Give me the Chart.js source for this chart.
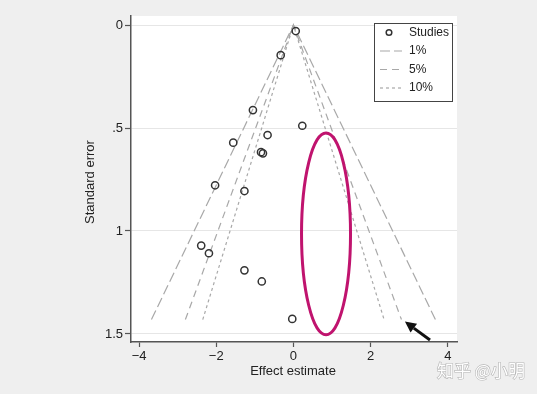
<!DOCTYPE html>
<html><head><meta charset="utf-8">
<script src="https://cdn.jsdelivr.net/npm/chart.js@4"></script>
<style>html,body{margin:0;padding:0;background:#efefef;}#wrap{width:537px;height:394px;position:relative;}</style>
</head><body><div id="wrap"><canvas id="c" width="537" height="394"></canvas></div>
<script>
// Study data: effect estimate vs standard error
const studyEffect = [0.06, -0.33, -1.05, 0.23, -0.67, -1.56, -0.84, -0.79, -2.03, -1.27, -2.39, -2.19, -1.27, -0.82, -0.03];
const studySE     = [0.029, 0.146, 0.413, 0.489, 0.534, 0.571, 0.617, 0.623, 0.778, 0.806, 1.071, 1.108, 1.191, 1.245, 1.427];
// Contour lines: left end, apex, right end (effect), SE values
const contourSE = [1.43, 0, 1.43];
const contour1  = [-3.68, 0, 3.68];
const contour5  = [-2.80, 0, 2.80];
const contour10 = [-2.35, 0, 2.35];
const xTicks = [-4, -2, 0, 2, 4];
const yTicks = [0, 0.5, 1, 1.5];
const yTickLabels = ["0", ".5", "1", "1.5"];
// annotation (data coordinates)
const ellipseCenter = [0.845, 1.014];
const ellipseRadii = [0.635, 0.49];
const arrowFrom = [3.54, 1.529];
const arrowTo = [2.89, 1.44];

const pts = studyEffect.map((x,i)=>({x:x,y:studySE[i]}));
const mk = arr => arr.map((x,i)=>({x:x,y:contourSE[i]}));
const FONT = "'Liberation Sans', Arial, sans-serif";
const lineColor = '#a8a8a8';

const bgPlugin = {
  id:'bg',
  beforeDraw(chart){
    const {ctx, chartArea:a} = chart;
    ctx.save();
    ctx.fillStyle='#efefef'; ctx.fillRect(0,0,chart.width,chart.height);
    ctx.fillStyle='#ffffff'; ctx.fillRect(a.left,a.top,a.right-a.left,a.bottom-a.top);
    ctx.restore();
  },
  afterDraw(chart){
    const {ctx, chartArea:a, scales:{x,y}} = chart;
    ctx.save();
    // ellipse
    const cx=x.getPixelForValue(ellipseCenter[0]), cy=y.getPixelForValue(ellipseCenter[1]);
    const rx=Math.abs(x.getPixelForValue(ellipseCenter[0]+ellipseRadii[0])-cx);
    const ry=Math.abs(y.getPixelForValue(ellipseCenter[1]+ellipseRadii[1])-cy);
    ctx.beginPath(); ctx.ellipse(cx,cy,rx,ry,0,0,Math.PI*2);
    ctx.strokeStyle='#c0136e'; ctx.lineWidth=3; ctx.stroke();
    // arrow
    const x1=x.getPixelForValue(arrowFrom[0]), y1=y.getPixelForValue(arrowFrom[1]);
    const x2=x.getPixelForValue(arrowTo[0]), y2=y.getPixelForValue(arrowTo[1]);
    const ang=Math.atan2(y2-y1,x2-x1);
    const hl=11, hw=5.5;
    const bx=x2-hl*Math.cos(ang), by=y2-hl*Math.sin(ang);
    ctx.beginPath(); ctx.moveTo(x1,y1); ctx.lineTo(bx,by);
    ctx.strokeStyle='#111'; ctx.lineWidth=3; ctx.stroke();
    ctx.beginPath(); ctx.moveTo(x2,y2);
    ctx.lineTo(bx+hw*Math.sin(ang), by-hw*Math.cos(ang));
    ctx.lineTo(bx-hw*Math.sin(ang), by+hw*Math.cos(ang));
    ctx.closePath(); ctx.fillStyle='#111'; ctx.fill();
    // legend
    const L=374.5, T=23.5, W=78, H=78;
    ctx.fillStyle='#fff'; ctx.fillRect(L,T,W,H);
    ctx.strokeStyle='#444'; ctx.lineWidth=1; ctx.strokeRect(L,T,W,H);
    ctx.font='12px '+FONT; ctx.fillStyle='#222'; ctx.textBaseline='middle'; ctx.textAlign='left';
    const rows=[32.5,51,69.5,88];
    const labels=['Studies','1%','5%','10%'];
    const dashes=[[10,4],[7,5],[3,3]];
    ctx.beginPath(); ctx.arc(389,rows[0],2.8,0,Math.PI*2); ctx.strokeStyle='#333'; ctx.lineWidth=1.5; ctx.stroke();
    for(let i=1;i<4;i++){
      ctx.beginPath(); ctx.setLineDash(dashes[i-1]); ctx.moveTo(380,rows[i]); ctx.lineTo(402,rows[i]);
      ctx.strokeStyle=lineColor; ctx.lineWidth=1.2; ctx.stroke();
    }
    ctx.setLineDash([]);
    labels.forEach((t,i)=>ctx.fillText(t,409,rows[i]));
    // axis titles
    ctx.font='13px '+FONT; ctx.fillStyle='#222'; ctx.textAlign='center';
    ctx.fillText('Effect estimate', 293, 371);
    ctx.save(); ctx.translate(90,182); ctx.rotate(-Math.PI/2); ctx.fillText('Standard error',0,0); ctx.restore();
    // watermark
    ctx.font="17px 'Noto Sans CJK SC', sans-serif"; ctx.textAlign='left';
    ctx.lineWidth=1.2; ctx.strokeStyle='#b5b5b5'; ctx.strokeText('知乎 @小明',437,371);
    ctx.fillStyle='#ffffff'; ctx.fillText('知乎 @小明',437,371);
    ctx.restore();
  }
};

new Chart(document.getElementById('c'), {
  type:'scatter',
  data:{datasets:[
    {label:'Studies', data:pts, pointStyle:'circle', pointRadius:3.6, pointBorderWidth:1.5, pointBorderColor:'#333', pointBackgroundColor:'rgba(255,255,255,0)', showLine:false, order:0},
    {label:'1%', data:mk(contour1), showLine:true, pointRadius:0, borderColor:lineColor, borderWidth:1.2, borderDash:[10,4], order:1},
    {label:'5%', data:mk(contour5), showLine:true, pointRadius:0, borderColor:lineColor, borderWidth:1.2, borderDash:[7,5], order:1},
    {label:'10%', data:mk(contour10), showLine:true, pointRadius:0, borderColor:lineColor, borderWidth:1.2, borderDash:[3,3], order:1}
  ]},
  options:{
    responsive:false, animation:false, devicePixelRatio:1,
    layout:{padding:{left:0, right:80, top:16, bottom:0}},
    plugins:{legend:{display:false}, tooltip:{enabled:false}},
    scales:{
      x:{type:'linear', min:-4.21, max:4.24,
        afterBuildTicks:s=>{s.ticks=xTicks.map(v=>({value:v}));},
        afterFit:s=>{s.height=52;},
        ticks:{font:{size:13, family:FONT}, color:'#222', padding:2, callback:v=>String(v).replace('-','\u2212')},
        grid:{drawOnChartArea:false, drawTicks:true, tickLength:5, tickColor:'#555', tickWidth:1.2},
        border:{display:true, color:'#555', width:1.5}
      },
      y:{type:'linear', reverse:true, min:-0.044, max:1.539,
        afterBuildTicks:s=>{s.ticks=yTicks.map(v=>({value:v}));},
        afterFit:s=>{s.width=131;},
        ticks:{font:{size:13, family:FONT}, color:'#222', padding:2, callback:(v)=>{const i=yTicks.indexOf(v); return i>=0?yTickLabels[i]:'';}},
        grid:{drawOnChartArea:true, color:'#e6e6e6', lineWidth:1, drawTicks:true, tickLength:6, tickColor:'#555', tickWidth:1.2},
        border:{display:true, color:'#555', width:1.5}
      }
    }
  },
  plugins:[bgPlugin]
});
</script></body></html>
